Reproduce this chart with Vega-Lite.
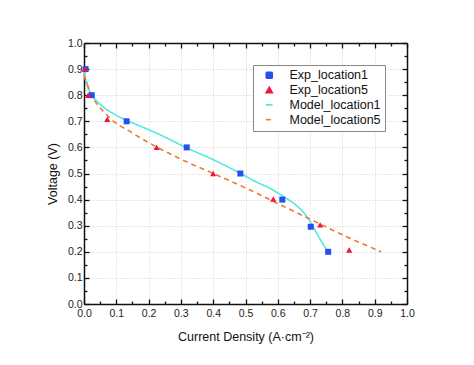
{
  "$schema": "https://vega.github.io/schema/vega-lite/v6.json",
  "width": 323,
  "height": 261,
  "autosize": "none",
  "padding": {"left": 84, "top": 43, "right": 67, "bottom": 61},
  "background": "white",
  "config": {
    "view": {"stroke": null},
    "font": "Liberation Sans",
    "axis": {
      "labelFont": "Liberation Sans",
      "titleFont": "Liberation Sans",
      "labelFontSize": 10.5,
      "titleFontSize": 12.5,
      "titleFontWeight": "normal",
      "labelColor": "#222",
      "titleColor": "#111",
      "domainColor": "#111",
      "domainWidth": 1.5,
      "tickColor": "#111",
      "tickWidth": 1.3,
      "gridColor": "#cfcfcf",
      "gridDash": [1, 2],
      "gridWidth": 1
    }
  },
  "data": {
    "values": [
      {"series": "Exp_location1", "kind": "exp", "x": 0.005, "y": 0.9},
      {"series": "Exp_location1", "kind": "exp", "x": 0.024, "y": 0.8},
      {"series": "Exp_location1", "kind": "exp", "x": 0.132, "y": 0.7},
      {"series": "Exp_location1", "kind": "exp", "x": 0.318, "y": 0.6},
      {"series": "Exp_location1", "kind": "exp", "x": 0.484, "y": 0.5},
      {"series": "Exp_location1", "kind": "exp", "x": 0.614, "y": 0.4},
      {"series": "Exp_location1", "kind": "exp", "x": 0.702, "y": 0.296},
      {"series": "Exp_location1", "kind": "exp", "x": 0.756, "y": 0.2},
      {"series": "Exp_location5", "kind": "exp", "x": 0.003, "y": 0.9},
      {"series": "Exp_location5", "kind": "exp", "x": 0.013, "y": 0.8},
      {"series": "Exp_location5", "kind": "exp", "x": 0.072, "y": 0.708},
      {"series": "Exp_location5", "kind": "exp", "x": 0.225, "y": 0.6},
      {"series": "Exp_location5", "kind": "exp", "x": 0.4, "y": 0.5},
      {"series": "Exp_location5", "kind": "exp", "x": 0.586, "y": 0.402},
      {"series": "Exp_location5", "kind": "exp", "x": 0.731, "y": 0.303},
      {"series": "Exp_location5", "kind": "exp", "x": 0.821, "y": 0.207},
      {"series": "Model_location1", "kind": "model", "x": 0.0, "y": 0.9},
      {"series": "Model_location1", "kind": "model", "x": 0.005, "y": 0.86},
      {"series": "Model_location1", "kind": "model", "x": 0.012, "y": 0.83},
      {"series": "Model_location1", "kind": "model", "x": 0.025, "y": 0.8},
      {"series": "Model_location1", "kind": "model", "x": 0.05, "y": 0.765},
      {"series": "Model_location1", "kind": "model", "x": 0.09, "y": 0.73},
      {"series": "Model_location1", "kind": "model", "x": 0.13, "y": 0.705},
      {"series": "Model_location1", "kind": "model", "x": 0.2, "y": 0.668},
      {"series": "Model_location1", "kind": "model", "x": 0.25, "y": 0.64},
      {"series": "Model_location1", "kind": "model", "x": 0.315, "y": 0.6},
      {"series": "Model_location1", "kind": "model", "x": 0.4, "y": 0.553},
      {"series": "Model_location1", "kind": "model", "x": 0.485, "y": 0.5},
      {"series": "Model_location1", "kind": "model", "x": 0.53, "y": 0.47},
      {"series": "Model_location1", "kind": "model", "x": 0.58, "y": 0.44},
      {"series": "Model_location1", "kind": "model", "x": 0.62, "y": 0.41},
      {"series": "Model_location1", "kind": "model", "x": 0.66, "y": 0.375},
      {"series": "Model_location1", "kind": "model", "x": 0.69, "y": 0.335},
      {"series": "Model_location1", "kind": "model", "x": 0.71, "y": 0.295},
      {"series": "Model_location1", "kind": "model", "x": 0.73, "y": 0.25},
      {"series": "Model_location1", "kind": "model", "x": 0.745, "y": 0.22},
      {"series": "Model_location1", "kind": "model", "x": 0.755, "y": 0.2},
      {"series": "Model_location5", "kind": "model", "x": 0.0, "y": 0.875},
      {"series": "Model_location5", "kind": "model", "x": 0.02, "y": 0.81},
      {"series": "Model_location5", "kind": "model", "x": 0.07, "y": 0.725},
      {"series": "Model_location5", "kind": "model", "x": 0.15, "y": 0.655},
      {"series": "Model_location5", "kind": "model", "x": 0.22, "y": 0.605},
      {"series": "Model_location5", "kind": "model", "x": 0.3, "y": 0.555},
      {"series": "Model_location5", "kind": "model", "x": 0.4, "y": 0.5},
      {"series": "Model_location5", "kind": "model", "x": 0.5, "y": 0.445},
      {"series": "Model_location5", "kind": "model", "x": 0.6, "y": 0.385},
      {"series": "Model_location5", "kind": "model", "x": 0.7, "y": 0.325},
      {"series": "Model_location5", "kind": "model", "x": 0.8, "y": 0.265},
      {"series": "Model_location5", "kind": "model", "x": 0.92, "y": 0.2}
    ]
  },
  "layer": [
    {
      "transform": [{"filter": "datum.kind === 'model'"}],
      "mark": {"type": "line", "strokeWidth": 1.6, "interpolate": "monotone", "clip": true},
      "encoding": {
        "x": {
          "field": "x", "type": "quantitative",
          "scale": {"domain": [0, 1], "nice": false, "zero": false},
          "axis": {
            "orient": "bottom",
            "title": "Current Density (A·cm⁻²)",
            "values": [0,0.05,0.1,0.15,0.2,0.25,0.3,0.35,0.4,0.45,0.5,0.55,0.6,0.65,0.7,0.75,0.8,0.85,0.9,0.95,1.0],
            "labelExpr": "abs(datum.value*10 - round(datum.value*10)) < 0.001 ? format(datum.value, '.1f') : ''",
            "tickSize": {"condition": {"test": "abs(datum.value*10 - round(datum.value*10)) < 0.001", "value": -5}, "value": -3},
            "gridOpacity": {"condition": {"test": "abs(datum.value*10 - round(datum.value*10)) < 0.001 && datum.value > 0 && datum.value < 1", "value": 1}, "value": 0},
            "labelPadding": 9,
            "labelFlush": false,
            "labelOverlap": false,
            "titlePadding": 10
          }
        },
        "y": {
          "field": "y", "type": "quantitative",
          "scale": {"domain": [0, 1], "nice": false, "zero": false},
          "axis": {
            "orient": "left",
            "title": "Voltage (V)",
            "values": [0,0.05,0.1,0.15,0.2,0.25,0.3,0.35,0.4,0.45,0.5,0.55,0.6,0.65,0.7,0.75,0.8,0.85,0.9,0.95,1.0],
            "labelExpr": "abs(datum.value*10 - round(datum.value*10)) < 0.001 ? format(datum.value, '.1f') : ''",
            "tickSize": {"condition": {"test": "abs(datum.value*10 - round(datum.value*10)) < 0.001", "value": -5}, "value": -3},
            "gridOpacity": {"condition": {"test": "abs(datum.value*10 - round(datum.value*10)) < 0.001 && datum.value > 0 && datum.value < 1", "value": 1}, "value": 0},
            "labelPadding": 7,
            "labelFlush": false,
            "labelOverlap": false,
            "titlePadding": 8
          }
        },
        "color": {
          "field": "series", "type": "nominal", "title": null,
          "scale": {
            "domain": ["Exp_location1", "Exp_location5", "Model_location1", "Model_location5"],
            "range": ["#2350f0", "#ee1540", "#55e8e0", "#ee7a30"]
          },
          "legend": {
            "orient": "none", "legendX": 169, "legendY": 22,
            "strokeColor": "#888", "fillColor": "white", "padding": 4,
            "labelFontSize": 12.5, "labelFont": "Liberation Sans", "labelColor": "#111",
            "rowPadding": 1.8, "labelOffset": 14, "symbolOffset": 6, "columnPadding": 2,
            "symbolStrokeWidth": 1.6
          }
        },
        "strokeDash": {
          "field": "series", "type": "nominal", "title": null,
          "scale": {
            "domain": ["Exp_location1", "Exp_location5", "Model_location1", "Model_location5"],
            "range": [[1, 0], [1, 0], [1, 0], [5, 4]]
          }
        }
      }
    },
    {
      "transform": [{"filter": "datum.kind === 'exp'"}],
      "mark": {"type": "point", "filled": true, "opacity": 1},
      "encoding": {
        "x": {"field": "x", "type": "quantitative", "axis": null},
        "y": {"field": "y", "type": "quantitative", "axis": null},
        "color": {"field": "series", "type": "nominal", "title": null},
        "shape": {
          "field": "series", "type": "nominal", "title": null,
          "scale": {
            "domain": ["Exp_location1", "Exp_location5", "Model_location1", "Model_location5"],
            "range": ["square", "triangle-up", "stroke", "stroke"]
          }
        },
        "size": {
          "field": "series", "type": "nominal", "title": null,
          "scale": {
            "domain": ["Exp_location1", "Exp_location5", "Model_location1", "Model_location5"],
            "range": [36, 45, 700, 700]
          }
        }
      }
    },
    {
      "mark": {"type": "point", "opacity": 0},
      "encoding": {
        "x": {
          "field": "x", "type": "quantitative",
          "axis": {
            "orient": "top", "title": null, "labels": false, "grid": false,
            "values": [0,0.05,0.1,0.15,0.2,0.25,0.3,0.35,0.4,0.45,0.5,0.55,0.6,0.65,0.7,0.75,0.8,0.85,0.9,0.95,1.0],
            "tickSize": {"condition": {"test": "abs(datum.value*10 - round(datum.value*10)) < 0.001", "value": -5}, "value": -3}
          }
        },
        "y": {
          "field": "y", "type": "quantitative",
          "axis": {
            "orient": "right", "title": null, "labels": false, "grid": false,
            "values": [0,0.05,0.1,0.15,0.2,0.25,0.3,0.35,0.4,0.45,0.5,0.55,0.6,0.65,0.7,0.75,0.8,0.85,0.9,0.95,1.0],
            "tickSize": {"condition": {"test": "abs(datum.value*10 - round(datum.value*10)) < 0.001", "value": -5}, "value": -3}
          }
        }
      }
    }
  ],
  "resolve": {"axis": {"x": "independent", "y": "independent"}}
}
